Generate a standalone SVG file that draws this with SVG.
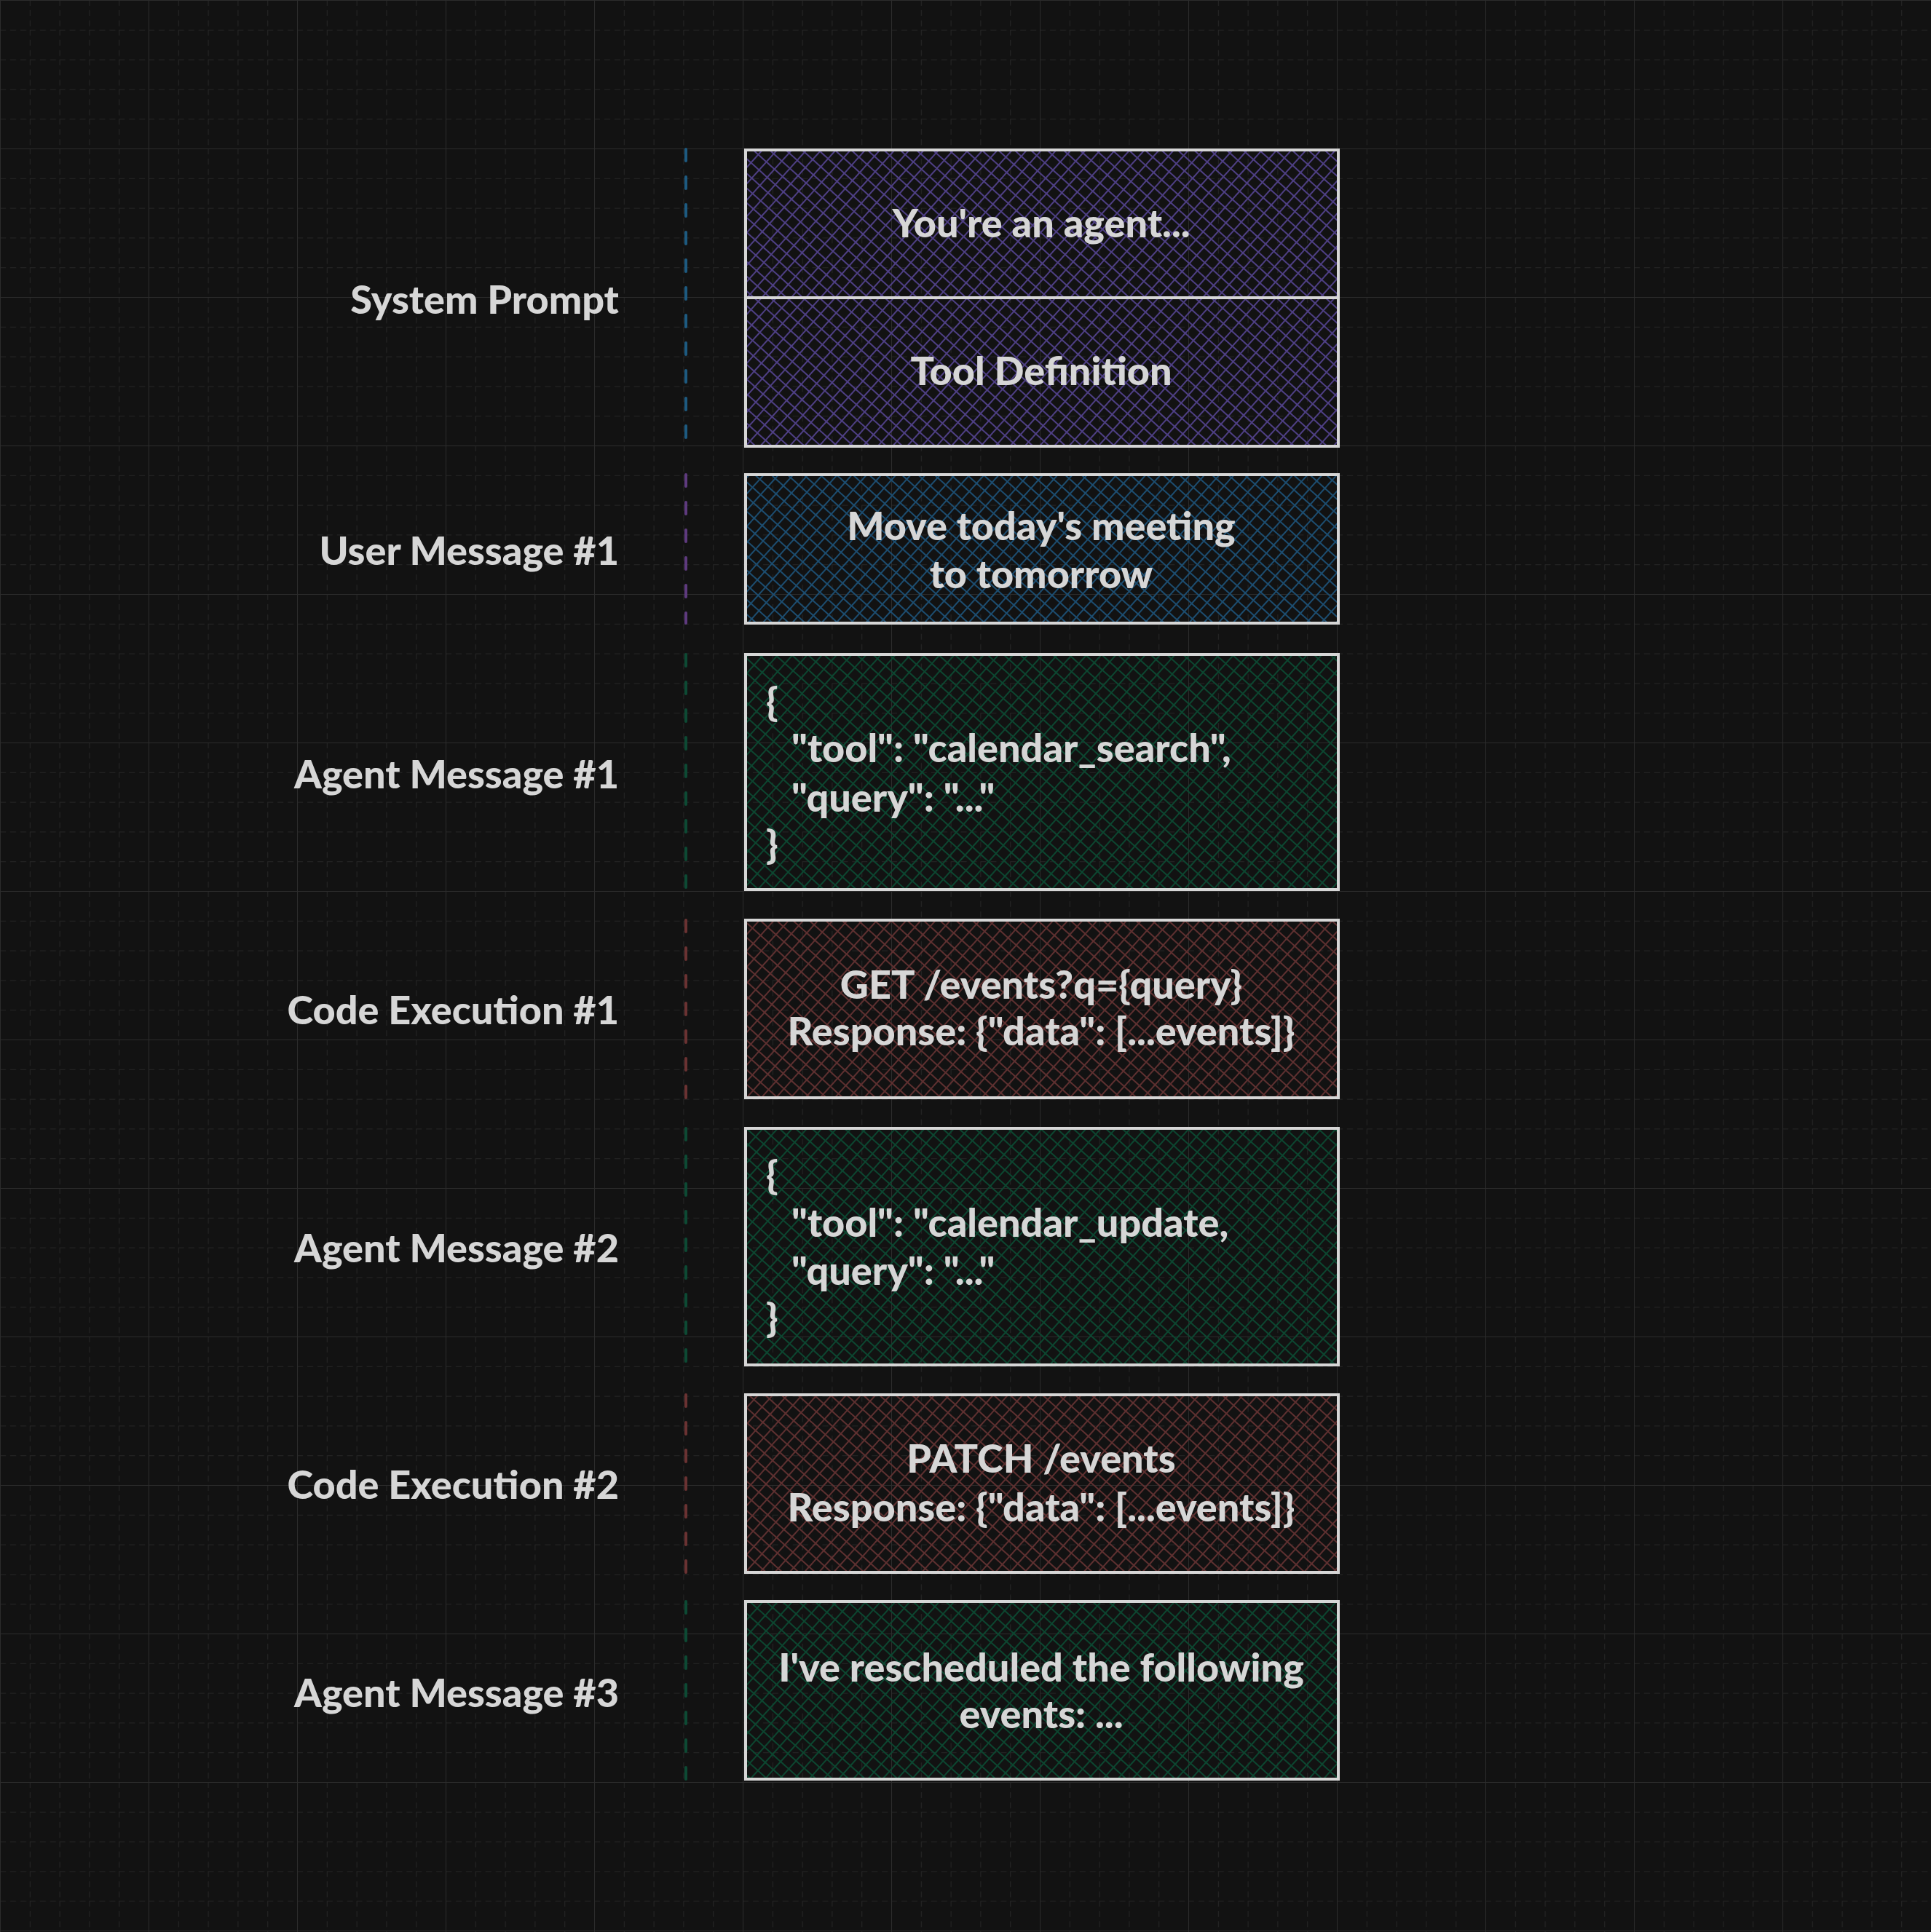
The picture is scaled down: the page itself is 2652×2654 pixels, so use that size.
<svg xmlns="http://www.w3.org/2000/svg" width="2652" height="2654" viewBox="0 0 2652 2654">
<defs>
<pattern id="minor" width="40.8" height="40.8" patternUnits="userSpaceOnUse">
<path d="M0 0H40.8M0 0V40.8" stroke="#262626" stroke-width="2" stroke-dasharray="8 6" fill="none"/>
</pattern>
<pattern id="major" width="204" height="204" patternUnits="userSpaceOnUse">
<path d="M0 0H204M0 0V204" stroke="#2c2c2c" stroke-width="2" fill="none"/>
</pattern>
<pattern id="hp" width="15" height="15" patternUnits="userSpaceOnUse" patternTransform="rotate(42)"><path d="M0 0H15M0 0V15" stroke="#4e3f84" stroke-width="4"/></pattern>
<pattern id="hb" width="15" height="15" patternUnits="userSpaceOnUse" patternTransform="rotate(42)"><path d="M0 0H15M0 0V15" stroke="#1c4d70" stroke-width="4"/></pattern>
<pattern id="hg" width="15" height="15" patternUnits="userSpaceOnUse" patternTransform="rotate(42)"><path d="M0 0H15M0 0V15" stroke="#0c4630" stroke-width="4"/></pattern>
<pattern id="hr" width="15" height="15" patternUnits="userSpaceOnUse" patternTransform="rotate(42)"><path d="M0 0H15M0 0V15" stroke="#5e3030" stroke-width="4"/></pattern>
</defs>
<style>
text{font-family:Lato,"Liberation Sans",sans-serif;font-weight:900;fill:#d6d6d6;font-size:54px}
.c{text-anchor:middle}
.l{text-anchor:end}
.box{stroke:#d6d6d6;stroke-width:4}
.d{stroke-width:4;stroke-dasharray:16 22;stroke-linecap:round;fill:none}
</style>
<rect width="2652" height="2654" fill="#121212"/>
<rect width="2652" height="2654" fill="url(#minor)"/>
<rect width="2652" height="2654" fill="url(#major)"/>
<g id="connectors">
<path class="d" stroke="#1d5a80" d="M942 205V613"/>
<path class="d" stroke="#5e3a7e" d="M942 652V856"/>
<path class="d" stroke="#0d4a34" d="M942 899V1222"/>
<path class="d" stroke="#6a3232" d="M942 1264V1508"/>
<path class="d" stroke="#0d4a34" d="M942 1550V1875"/>
<path class="d" stroke="#6a3232" d="M942 1916V2160"/>
<path class="d" stroke="#0d4a34" d="M942 2200V2444"/>
</g>
<g id="labels">
<text class="l" x="850" y="431">System Prompt</text>
<text class="l" x="850" y="776">User Message #1</text>
<text class="l" x="850" y="1083">Agent Message #1</text>
<text class="l" x="850" y="1407">Code Execution #1</text>
<text class="l" x="850" y="1734">Agent Message #2</text>
<text class="l" x="850" y="2059">Code Execution #2</text>
<text class="l" x="850" y="2345">Agent Message #3</text>
</g>
<g id="system1"><rect class="box" x="1024" y="206" width="814" height="203" fill="url(#hp)"/><text class="c" x="1430" y="326">You're an agent...</text></g>
<g id="system2"><rect class="box" x="1024" y="409" width="814" height="204" fill="url(#hp)"/><text class="c" x="1430" y="529">Tool Definition</text></g>
<g id="user1"><rect class="box" x="1024" y="652" width="814" height="204" fill="url(#hb)"/><text class="c" x="1430" y="742">Move today's meeting</text><text class="c" x="1430" y="808">to tomorrow</text></g>
<g id="agent1"><rect class="box" x="1024" y="899" width="814" height="323" fill="url(#hg)"/>
<text x="1052" y="983">{</text><text x="1087" y="1047">"tool": "calendar_search",</text><text x="1087" y="1115">"query": "..."</text><text x="1052" y="1179">}</text></g>
<g id="code1"><rect class="box" x="1024" y="1264" width="814" height="244" fill="url(#hr)"/><text class="c" x="1430" y="1372">GET /events?q={query}</text><text class="c" x="1430" y="1436">Response: {"data": [...events]}</text></g>
<g id="agent2"><rect class="box" x="1024" y="1550" width="814" height="325" fill="url(#hg)"/>
<text x="1052" y="1633">{</text><text x="1087" y="1699">"tool": "calendar_update,</text><text x="1087" y="1765">"query": "..."</text><text x="1052" y="1829">}</text></g>
<g id="code2"><rect class="box" x="1024" y="1916" width="814" height="244" fill="url(#hr)"/><text class="c" x="1430" y="2023">PATCH /events</text><text class="c" x="1430" y="2090">Response: {"data": [...events]}</text></g>
<g id="agent3"><rect class="box" x="1024" y="2200" width="814" height="244" fill="url(#hg)"/><text class="c" x="1430" y="2310">I've rescheduled the following</text><text class="c" x="1430" y="2374">events: ...</text></g>
</svg>
